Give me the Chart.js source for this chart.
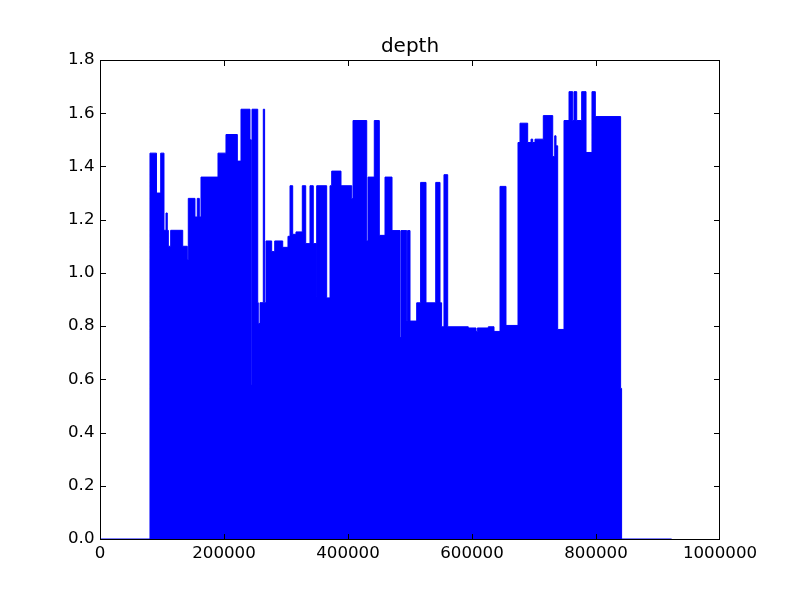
<!DOCTYPE html>
<html>
<head>
<meta charset="utf-8">
<script src="https://cdn.jsdelivr.net/npm/chart.js@4/dist/chart.umd.min.js"></script>
<style>
  html, body { margin: 0; padding: 0; background: #fff; }
</style>
</head>
<body>
<canvas id="myChart" width="800" height="600"></canvas>
<script>
//step positions along the sequence and the depth that starts at each one
const positions = [
  0, 80600, 91100, 97900, 103200, 106450, 108500, 110200, 114000, 133400,
  140800, 142400, 153200, 156900, 160200, 162900, 190300, 203200, 221500, 227400,
  241900, 244000, 245200, 254400, 255300, 258100, 263400, 265500, 267700, 276900,
  281800, 294700, 303200, 306500, 310800, 316100, 326300, 331800, 338700, 344000,
  348900, 349500, 365600, 371000, 373700, 388700, 406000, 408100, 430200, 432300,
  442400, 450500, 459700, 471000, 483900, 485500, 494700, 496100, 500000, 510800,
  517100, 525800, 541500, 548400, 551000, 554800, 560800, 594000, 606500, 608600,
  626300, 635500, 645200, 654800, 674200, 677400, 689800, 695200, 697900, 701600,
  715000, 730200, 733400, 735500, 738200, 748400, 756500, 762400, 764500, 768900,
  776900, 783900, 793500, 798900, 839700, 841300, 922000
];
const depth = [
  0, 1.45, 1.30, 1.45, 1.16, 1.225, 1.16, 1.10, 1.16, 1.10,
  1.05, 1.28, 1.21, 1.28, 1.21, 1.36, 1.45, 1.52, 1.42, 1.615,
  1.50, 0.58, 1.615, 0.888, 0.81, 0.888, 1.615, 0.888, 1.12, 1.08,
  1.12, 1.096, 1.1375, 1.3275, 1.145, 1.154, 1.3275, 1.11, 1.3275, 1.11,
  0.91, 1.3275, 0.906, 1.3275, 1.3825, 1.3275, 1.279, 1.5725, 1.12, 1.36,
  1.5725, 1.141, 1.36, 1.159, 0.757, 1.159, 0.82, 1.159, 0.819, 0.8875,
  1.34, 0.8875, 1.34, 0.8875, 0.7975, 1.369, 0.7975, 0.793, 0.78, 0.793,
  0.7975, 0.78, 1.325, 0.8025, 1.49, 1.5625, 1.49, 1.5025, 1.49, 1.5025,
  1.591, 1.437, 1.515, 1.4775, 0.7875, 1.5725, 1.681, 1.5725, 1.681, 1.5725,
  1.681, 1.4525, 1.681, 1.5875, 0.566, 0, 0
];

//tick values
const xTicks = [0, 200000, 400000, 600000, 800000, 1000000];
const yTicks = [0, 0.2, 0.4, 0.6, 0.8, 1.0, 1.2, 1.4, 1.6, 1.8];

const titleText = "depth";
const fontFamily = "'DejaVu Sans', sans-serif";

//-------------------- frame, inward ticks and title (matplotlib look) --------------------
const framePlugin = {
  id: "frame",
  afterDraw(chart) {
    const ctx = chart.ctx;
    const a = chart.chartArea;
    const xs = chart.scales.x;
    const ys = chart.scales.y;
    const L = Math.round(a.left) + 0.5;
    const R = Math.round(a.right) - 0.5;
    const T = Math.round(a.top) + 0.5;
    const B = Math.round(a.bottom) + 0.5;
    const len = 5.5;

    ctx.save();
    ctx.strokeStyle = "#000";
    ctx.lineWidth = 1;
    ctx.strokeRect(L, T, R - L, B - T);

    ctx.beginPath();
    xTicks.forEach((v) => {
      let p = Math.round(xs.getPixelForValue(v)) + 0.5;
      if (p > R) p = R;
      ctx.moveTo(p, B);
      ctx.lineTo(p, B - len);
      ctx.moveTo(p, T);
      ctx.lineTo(p, T + len);
    });
    yTicks.forEach((v) => {
      let p = Math.round(ys.getPixelForValue(v)) + 0.5;
      if (p > B) p = B;
      ctx.moveTo(L, p);
      ctx.lineTo(L + len, p);
      ctx.moveTo(R, p);
      ctx.lineTo(R - len, p);
    });
    ctx.stroke();

    //title
    ctx.fillStyle = "#000";
    ctx.font = "20px " + fontFamily;
    ctx.textAlign = "center";
    ctx.textBaseline = "alphabetic";
    ctx.fillText(titleText, (a.left + a.right) / 2, 52);
    ctx.restore();
  },
};

const data = {
  datasets: [
    {
      label: titleText,
      data: positions.map((x, i) => ({ x: x, y: depth[i] })),
      stepped: "before",
      fill: "origin",
      borderColor: "#0000ff",
      backgroundColor: "#0000ff",
      borderWidth: 1,
      pointRadius: 0,
      tension: 0,
    },
  ],
};

const config = {
  type: "line",
  data,
  options: {
    responsive: false,
    animation: false,
    devicePixelRatio: 1,
    layout: { padding: { top: 60, right: 80, left: 0, bottom: 0 } },
    plugins: {
      legend: { display: false },
      tooltip: { enabled: false },
      title: { display: false },
    },
    scales: {
      x: {
        type: "linear",
        min: 0,
        max: 1000000,
        afterBuildTicks: (scale) => {
          scale.ticks = xTicks.map((v) => ({ value: v }));
        },
        afterFit: (scale) => {
          scale.height = 61;
        },
        grid: { display: false, drawTicks: false },
        border: { display: false },
        ticks: {
          padding: 4.5,
          maxRotation: 0,
          autoSkip: false,
          color: "#000",
          font: { family: fontFamily, size: 16.67 },
          callback: (v) => String(v),
        },
      },
      y: {
        type: "linear",
        min: 0,
        max: 1.8,
        afterBuildTicks: (scale) => {
          scale.ticks = yTicks.map((v) => ({ value: v }));
        },
        afterFit: (scale) => {
          scale.width = 100;
        },
        grid: { display: false, drawTicks: false },
        border: { display: false },
        ticks: {
          padding: 5.5,
          autoSkip: false,
          color: "#000",
          font: { family: fontFamily, size: 16.67 },
          callback: (v) => Number(v).toFixed(1),
        },
      },
    },
  },
  plugins: [framePlugin],
};

// render init block
const myChart = new Chart(document.getElementById("myChart"), config);
</script>
</body>
</html>
